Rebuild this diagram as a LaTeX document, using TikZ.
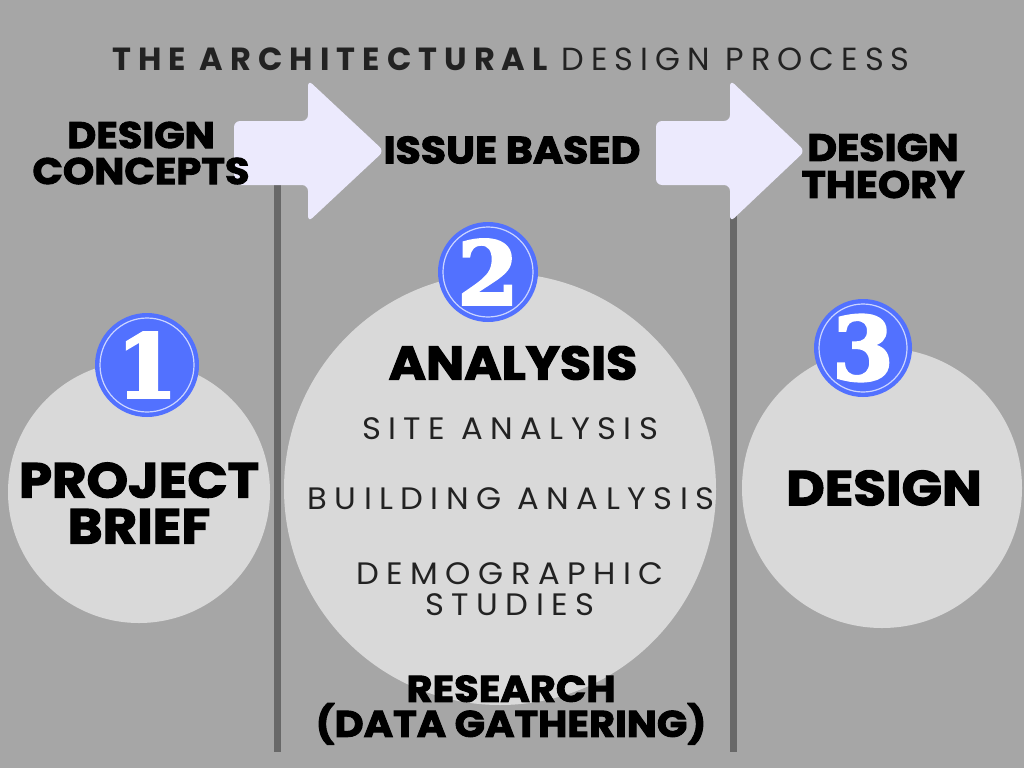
\documentclass[tikz,border=0pt]{standalone}
\usepackage{fontspec}
\setmainfont{Poppins}
\newfontfamily\heavyfont{Poppins}[FakeBold=2.5, FakeStretch=1.08]
\newfontfamily\spacedfont{Poppins}[LetterSpace=24, FakeStretch=1.04]
\newfontfamily\titlefont{Poppins}[LetterSpace=22]
\newfontfamily\digitfont{DejaVu Serif}[FakeBold=3]
\definecolor{bggray}{HTML}{A6A6A6}
\definecolor{discgray}{HTML}{D9D9D9}
\definecolor{arrowwhite}{HTML}{ECEAFD}
\definecolor{polegray}{HTML}{686868}
\definecolor{badgeblue}{HTML}{5271FF}
\definecolor{titleink}{HTML}{222222}

\begin{document}
\begin{tikzpicture}[x=1pt,y=-1pt,
    disc/.style={circle, fill=discgray, inner sep=0pt},
    badge/.style={circle, fill=badgeblue, text=white, inner sep=0pt,
        font=\digitfont\bfseries\fontsize{88}{88}\selectfont},
    heavy/.style={text=black, align=center, inner sep=0pt},
    spaced/.style={text=titleink, align=center, inner sep=0pt,
        font=\spacedfont\fontsize{31}{31}\selectfont},
    pole/.style={polegray, line width=7pt},
    flow/.style={fill=arrowwhite, rounded corners=6pt}]

        \fill[bggray] (0,0) rectangle (1024,768);
        \useasboundingbox (0,0) rectangle (1024,768);

        % title
        \node[text=titleink, inner sep=0pt] (title) at (511,59)
            {\titlefont\fontsize{32}{32}\selectfont\bfseries THE ARCHITECTURAL \mdseries DESIGN PROCESS};

        % poles
        \coordinate (p1top) at (277,150);
        \coordinate (p1bot) at (277,752);
        \coordinate (p2top) at (733,150);
        \coordinate (p2bot) at (733,752);
        \draw[pole] (p1top) -- (p1bot);
        \draw[pole] (p2top) -- (p2bot);

        % arrows
        \fill[flow] (234,121) -- (308,121) -- (308,80) -- (384,151) -- (308,222) -- (308,185) -- (234,185) -- cycle;
        \fill[flow] (656,121) -- (730,121) -- (730,80) -- (805,151) -- (730,222) -- (730,185) -- (656,185) -- cycle;

        \node[heavy, font=\heavyfont\bfseries\fontsize{37}{36}\selectfont] (concepts) at (141,153) {DESIGN\\CONCEPTS};
        \node[heavy, font=\heavyfont\bfseries\fontsize{38}{35}\selectfont] (issue) at (512,150) {ISSUE BASED};
        \node[heavy, font=\heavyfont\bfseries\fontsize{38}{37}\selectfont] (theory) at (883,166) {DESIGN\\THEORY};

        % discs
        \node[disc, minimum size=262pt] (disc1) at (139,492) {};
        \node[disc, minimum size=432pt] (disc2) at (500,489) {};
        \node[disc, minimum size=280pt] (disc3) at (882,488) {};

        % badges
        \node[badge, minimum size=104pt] (one) at (147,365) {1};
        \node[badge, minimum size=100pt] (two) at (488,272) {2};
        \node[badge, minimum size=98pt] (three) at (863,348) {3};
        \draw[white, line width=1.2pt, opacity=0.7] (one) circle (47pt);
        \draw[white, line width=1.2pt, opacity=0.7] (two) circle (45pt);
        \draw[white, line width=1.2pt, opacity=0.7] (three) circle (44pt);

        % disc texts
        \node[heavy, font=\heavyfont\bfseries\fontsize{49}{46}\selectfont] (brief) at (139,503) {PROJECT\\BRIEF};
        \node[heavy, font=\heavyfont\bfseries\fontsize{47}{44}\selectfont] (analysis) at (513,363) {ANALYSIS};
        \node[spaced] (site) at (510,429) {SITE ANALYSIS};
        \node[spaced] (building) at (511,499) {BUILDING ANALYSIS};
        \node[spaced] (demo) at (510,589) {DEMOGRAPHIC\\STUDIES};
        \node[heavy, font=\heavyfont\bfseries\fontsize{49}{46}\selectfont] (design) at (884,488) {DESIGN};
        \node[heavy, font=\heavyfont\bfseries\fontsize{37}{33}\selectfont] (research) at (511,710) {RESEARCH\\(DATA GATHERING)};
            \end{tikzpicture}
\end{document}
